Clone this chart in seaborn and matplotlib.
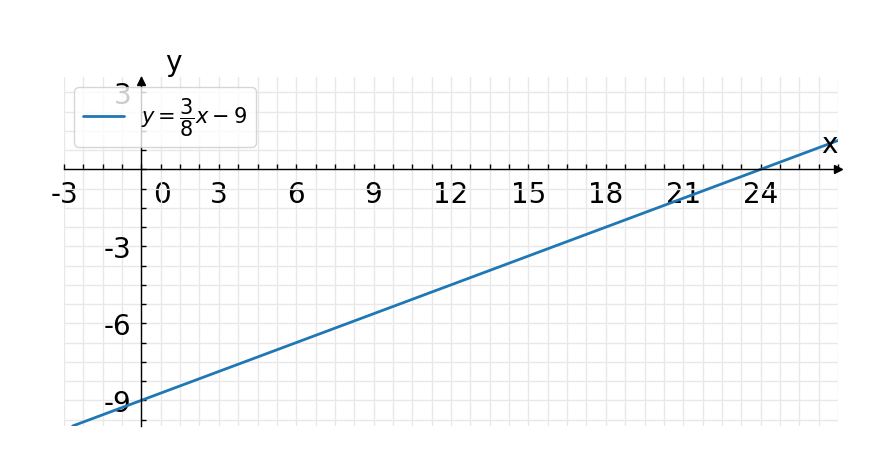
import matplotlib
matplotlib.use("Agg")
import matplotlib.pyplot as plt
import matplotlib.transforms as mtransforms
import seaborn as sns
import pandas as pd
import numpy as np

sns.set_style("white")
plt.rcParams['font.family'] = ['DejaVu Sans']
plt.rcParams['text.color'] = 'black'
plt.rcParams['axes.labelcolor'] = 'black'
plt.rcParams['xtick.color'] = 'black'
plt.rcParams['ytick.color'] = 'black'

# data: endpoints of y = 3/8 x - 9 inside the view
line_x = [-8/3, 27]
line_y = [-10, 1.125]
label = r"$y=\dfrac{3}{8}x-9$"
x_ticks = [-3, 0, 3, 6, 9, 12, 15, 18, 21, 24]
y_ticks = [-9, -6, -3, 3]

fig = plt.figure(figsize=(8.88, 4.77), dpi=100)
ax = fig.add_axes([64/888, 1-427/477, 774/888, 349/477])

df = pd.DataFrame({"x": line_x, "y": line_y})
sns.lineplot(data=df, x="x", y="y", ax=ax, color="#1f77b4", linewidth=2, label=label)

ax.set_xlim(-3, 27)
ax.set_ylim(-10, 3.6)

ax.spines['left'].set_position(('data', 0))
ax.spines['bottom'].set_position(('data', 0))
ax.spines['right'].set_visible(False)
ax.spines['top'].set_visible(False)
for s in ('left', 'bottom'):
    ax.spines[s].set_color('black')
    ax.spines[s].set_linewidth(1.0)

ax.set_xticks(x_ticks)
ax.set_xticklabels([str(t) for t in x_ticks])
ax.set_yticks(y_ticks)
ax.set_yticklabels([str(t) for t in y_ticks])
ax.set_xticks(np.arange(-3, 27.01, 0.75), minor=True)
ax.set_yticks(np.arange(-9.75, 3.6, 0.75), minor=True)
ax.tick_params(axis='both', which='both', direction='in', length=3.5, width=1, colors='black',
               labelsize=20, bottom=True, left=True)
ax.tick_params(axis='x', which='major', pad=8)
ax.tick_params(axis='y', which='major', pad=7)

# shift the "0" tick label to the right
for lbl in ax.get_xticklabels():
    if lbl.get_text() == '0':
        lbl.set_transform(lbl.get_transform() + mtransforms.ScaledTranslation(0.21, 0, fig.dpi_scale_trans))

ax.grid(True, which='both', color='#e8e8e8', linewidth=1)
ax.set_axisbelow(True)

ax.set_xlabel("")
ax.set_ylabel("")
ax.text(1.0, 0.45, "x", transform=ax.get_yaxis_transform(), fontsize=20, ha='right', va='bottom', color='black')
ax.text(1.25, 1.003, "y", transform=ax.get_xaxis_transform(), fontsize=20, ha='center', va='bottom', color='black')

ax.plot(1, 0, marker='>', color='black', markersize=6, transform=ax.get_yaxis_transform(), clip_on=False)
ax.plot(0, 0.988, marker='^', color='black', markersize=6, transform=ax.get_xaxis_transform(), clip_on=False)

leg = ax.legend(loc='upper left', fontsize=15)
for t in leg.get_texts():
    t.set_color('black')

fig.savefig("out.png", dpi=100)
